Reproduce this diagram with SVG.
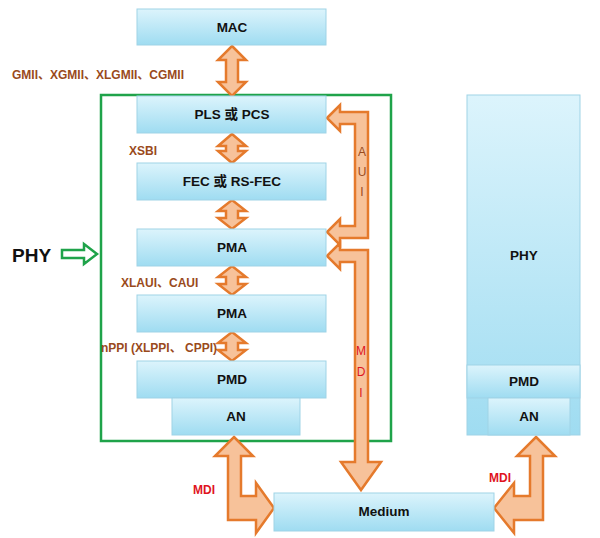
<svg xmlns="http://www.w3.org/2000/svg" width="600" height="538" viewBox="0 0 600 538">
<defs>
<linearGradient id="g" x1="0" y1="0" x2="0" y2="1"><stop offset="0" stop-color="#dcf4fc"/><stop offset="1" stop-color="#9fdcf1"/></linearGradient>
<style>
.b{fill:url(#g);stroke:#9fd3e6;stroke-width:1}
.t{font-family:"Liberation Sans","Noto Sans CJK SC",sans-serif;font-weight:bold;font-size:13.5px;fill:#111;text-anchor:middle}
.a{fill:#f7c29a;stroke:#e57a2c;stroke-width:2.5;stroke-linejoin:miter}
.l{font-family:"Liberation Sans","Noto Sans CJK SC",sans-serif;font-weight:bold;font-size:12px;fill:#9a4a1c}
.r{font-family:"Liberation Sans",sans-serif;font-weight:bold;font-size:12px;fill:#e0141e}
.v{font-family:"Liberation Sans",sans-serif;font-size:12px;text-anchor:middle}
</style>
</defs>
<rect x="101" y="95" width="290" height="346" fill="none" stroke="#1fa34a" stroke-width="2.5"/>
<g id="connectors">
<polygon class="a" points="232,46 246,60 238,60 238,82 246,82 232,96 218,82 226,82 226,60 218,60"/>
<polygon class="a" points="232,134 246,146 238,146 238,151 246,151 232,163 218,151 226,151 226,146 218,146"/>
<polygon class="a" points="232,200 246,211 238,211 238,218 246,218 232,229 218,218 226,218 226,211 218,211"/>
<polygon class="a" points="232,266 246,277 238,277 238,284 246,284 232,295 218,284 226,284 226,277 218,277"/>
<polygon class="a" points="232,332 246,343 238,343 238,350 246,350 232,361 218,350 226,350 226,343 218,343"/>
<polygon class="a" points="327,118 340,105 340,112 368,112 368,238 340,238 340,245 327,232 340,219 340,226 355,226 355,124 340,124 340,131"/>
<polygon class="a" points="327,256 340,243 340,250 368,250 368,462 381,462 361,490 341,462 355,462 355,262 340,262 340,269"/>
<polygon class="a" points="234,437 253,456 241,456 241,496 256,496 256,483 274,508 256,533 256,520 228,520 228,456 215,456"/>
<polygon class="a" points="536,437 555,456 543,456 543,520 514,520 514,533 494,508 514,483 514,496 530,496 530,456 517,456"/>
<path d="M62,250 h22 v-6 l13,10 l-13,10 v-6 h-22 z" fill="#fff" stroke="#1fa34a" stroke-width="2.5"/>
</g>
<g id="mac"><rect class="b" x="137" y="9" width="189" height="36"/><text class="t" x="232" y="32">MAC</text></g>
<g id="pls"><rect class="b" x="137" y="96" width="189" height="37"/><text class="t" x="232" y="119">PLS 或 PCS</text></g>
<g id="fec"><rect class="b" x="137" y="163" width="189" height="37"/><text class="t" x="232" y="186">FEC 或 RS-FEC</text></g>
<g id="pma1"><rect class="b" x="137" y="229" width="189" height="37"/><text class="t" x="232" y="252">PMA</text></g>
<g id="pma2"><rect class="b" x="137" y="295" width="189" height="37"/><text class="t" x="232" y="318">PMA</text></g>
<g id="pmd"><rect class="b" x="137" y="361" width="189" height="37"/><text class="t" x="232" y="384">PMD</text></g>
<g id="an"><rect class="b" x="172" y="398" width="128" height="37"/><text class="t" x="236" y="421">AN</text></g>
<g id="phy2"><rect class="b" x="467" y="95" width="113" height="340"/><rect class="b" x="467" y="365" width="113" height="33"/><rect class="b" x="488" y="398" width="82" height="37"/><text class="t" x="524" y="260" font-size="16">PHY</text><text class="t" x="524" y="386">PMD</text><text class="t" x="529" y="421">AN</text></g>
<g id="medium"><rect class="b" x="274" y="493" width="220" height="38"/><text class="t" x="384" y="516">Medium</text></g>
<g id="labels">
<text class="l" x="12" y="79">GMII、XGMII、XLGMII、CGMII</text>
<text class="l" x="129" y="155">XSBI</text>
<text class="l" x="121" y="287">XLAUI、CAUI</text>
<text class="l" x="101" y="352">nPPI (XLPPI、 CPPI)</text>
<text class="v" x="362" y="156" fill="#9a4a1c">A</text><text class="v" x="362" y="176" fill="#9a4a1c">U</text><text class="v" x="362" y="196" fill="#9a4a1c">I</text>
<text class="v" x="361" y="355" fill="#e0141e">M</text><text class="v" x="361" y="376" fill="#e0141e">D</text><text class="v" x="361" y="397" fill="#e0141e">I</text>
<text class="r" x="193" y="494">MDI</text>
<text class="r" x="489" y="482">MDI</text>
<text x="12" y="262" font-family="Liberation Sans,sans-serif" font-weight="bold" font-size="19" fill="#111">PHY</text>
</g>
</svg>
